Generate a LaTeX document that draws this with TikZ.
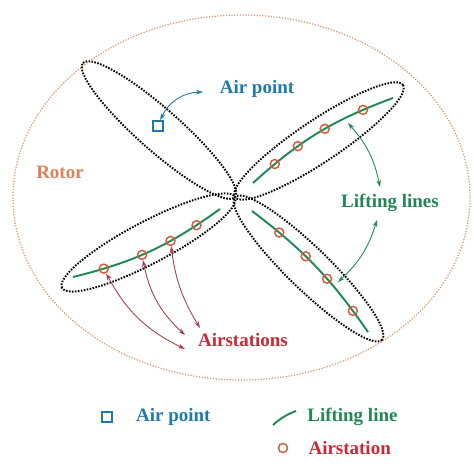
\documentclass[tikz,border=0pt]{standalone}
\usepackage{fontspec}
\setmainfont{Liberation Serif}
\usetikzlibrary{positioning,arrows.meta}
\definecolor{apblue}{RGB}{30,122,172}
\definecolor{llgreen}{RGB}{32,135,85}
\definecolor{asred}{RGB}{200,42,52}
\definecolor{stred}{RGB}{205,95,60}
\definecolor{asarrow}{RGB}{168,62,75}
\definecolor{rotorc}{RGB}{222,128,88}
\definecolor{rotorl}{RGB}{215,150,112}

\begin{document}
\begin{tikzpicture}[x=0.02cm,y=-0.02cm,node distance=0.4cm,font=\fontsize{10.8}{13}\selectfont\bfseries]
	\tikzstyle{blade}=[draw=black,line width=1.1pt,dash pattern=on 0.9pt off 0.8pt]
	\tikzstyle{liftline}=[draw=llgreen,line width=1.1pt]
	\tikzstyle{station}=[circle,draw=stred,line width=0.85pt,inner sep=0pt,minimum size=0.18cm]
	\tikzstyle{airpt}=[rectangle,draw=apblue,line width=0.9pt,inner sep=0pt,minimum size=0.2cm]
	\tikzstyle{lbl}=[inner sep=0pt]
	\tikzstyle{tip}=[{Stealth[length=4pt,width=2.6pt]}-{Stealth[length=4pt,width=2.6pt]},line width=0.5pt]
		\useasboundingbox (0,0) rectangle (474,470);
		\draw[rotorl,line width=0.7pt,dash pattern=on 0.7pt off 0.9pt] (241.5,197.5) ellipse (228.5 and 182.5);
		\node[lbl,rotorc] (rotor) at (60,172) {Rotor};
		\coordinate (hub) at (235,197);
		\draw[blade,rotate around={138.6:(159,130)}] (159,130) ellipse (101.3 and 21);
		\draw[blade,rotate around={33.7:(319,141)}] (319,141) ellipse (101 and 21);
		\draw[blade,rotate around={207.7:(148.5,242.5)}] (148.5,242.5) ellipse (97.7 and 21);
		\draw[blade,rotate around={-44.2:(308.5,268.5)}] (308.5,268.5) ellipse (102.5 and 21);
		\coordinate (lla0) at (73,277);
		\coordinate (lla5) at (220,209);
		\coordinate (ura0) at (253,183);
		\coordinate (ura5) at (393,98);
		\coordinate (lra0) at (252,211);
		\coordinate (lra5) at (368,332);
			\draw[liftline] (lla0) to[bend right=11] node[station,pos=0.18] (ll1) {} node[station,pos=0.44] (ll2) {} node[station,pos=0.65] (ll3) {} node[station,pos=0.84] (ll4) {} (lla5);
			\draw[liftline] (ura0) to[bend left=11] node[station,pos=0.16] (ur1) {} node[station,pos=0.34] (ur2) {} node[station,pos=0.55] (ur3) {} node[station,pos=0.82] (ur4) {} (ura5);
			\draw[liftline] (lra0) to[bend left=9] node[station,pos=0.19] (lr1) {} node[station,pos=0.41] (lr2) {} node[station,pos=0.61] (lr3) {} node[station,pos=0.86] (lr4) {} (lra5);
		\node[airpt] (ap) at (158,126) {};
		\node[lbl,apblue] (aplbl) at (257,89) {Air point};
		\coordinate (apa) at (203,92);
			\draw[tip,apblue] (apa) to[bend right=32] (ap);
		\node[lbl,llgreen] (lllbl) at (390,203) {Lifting lines};
		\coordinate (lla) at (380,187);
		\coordinate (llb) at (348,123);
		\coordinate (llc) at (377,220);
		\coordinate (lld) at (338,282);
			\draw[tip,llgreen] (lla) to[bend right=15] (llb);
			\draw[tip,llgreen] (llc) to[bend left=15] (lld);
		\node[lbl,asred] (aslbl) at (243,340) {Airstations};
		\coordinate (asa) at (185,349);
		\coordinate (asb) at (185,335);
		\coordinate (asc) at (200,328);
			\draw[tip,asarrow] (asa) to[bend left=18] (ll1);
			\draw[tip,asarrow] (asb) to[bend left=18] (ll2);
			\draw[tip,asarrow] (asc) to[bend left=12] (ll3);
		\node[airpt] (legap) at (107,417) {};
		\node[lbl,apblue,right=0.46cm of legap] (legaptxt) {Air point};
		\coordinate (legl1) at (273,425);
		\coordinate (legl2) at (296,411);
			\draw[liftline] (legl1) to[bend left=10] (legl2);
		\node[lbl,llgreen,anchor=west] (legll) at (307,417) {Lifting line};
		\node[station] (legst) at (283,448) {};
		\node[lbl,asred,right=of legst] (legsttxt) {Airstation};
\end{tikzpicture}
\end{document}
